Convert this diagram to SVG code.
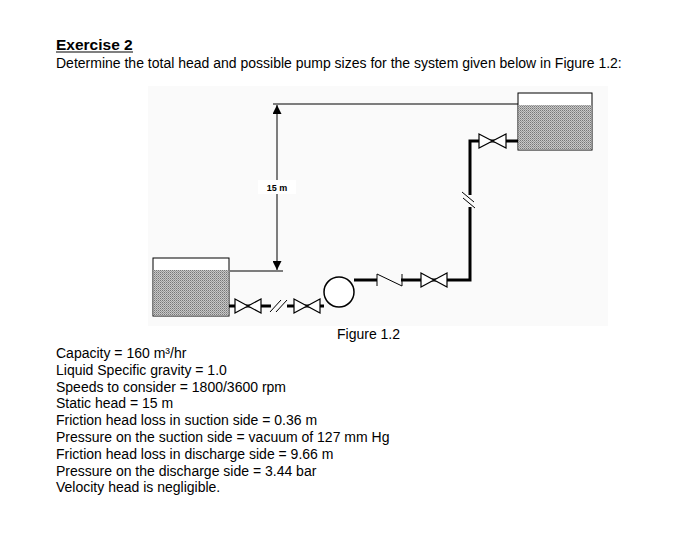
<svg xmlns="http://www.w3.org/2000/svg" width="698" height="540" viewBox="0 0 698 540">
<defs>
<pattern id="dots" width="2" height="2" patternUnits="userSpaceOnUse"><rect width="2" height="2" fill="#c8c8c8"/><rect width="1" height="1" fill="#777"/><rect x="1" y="1" width="1" height="1" fill="#999"/></pattern>
<marker id="ah" viewBox="0 0 10 10" refX="10" refY="5" markerWidth="9" markerHeight="9" orient="auto-start-reverse" markerUnits="userSpaceOnUse"><path d="M0,0 L10,5 L0,10 z" fill="#000"/></marker>
</defs>
<style>
text{font-family:"Liberation Sans",Arial,sans-serif;fill:#000}
.t{font-size:14px}
.pipe{stroke:#000;stroke-width:3;fill:none}
.thin{stroke:#000;stroke-width:1;fill:none}
.valve{fill:#fff;stroke:#000;stroke-width:1.2}
</style>
<rect width="698" height="540" fill="#fff"/>
<rect x="148" y="86" width="460" height="240" fill="#fafafa"/>
<text x="56" y="50" style="font-size:15.5px;font-weight:bold">Exercise 2</text>
<line x1="56" y1="52" x2="133" y2="52" stroke="#000" stroke-width="1.2"/>
<text x="56" y="68" class="t">Determine the total head and possible pump sizes for the system given below in Figure 1.2:</text>
<g id="connectors">
<line x1="273" y1="104" x2="518" y2="104" class="thin"/>
<line x1="230" y1="271" x2="283" y2="271" class="thin"/>
<line x1="277" y1="105" x2="277" y2="270" class="thin" marker-start="url(#ah)" marker-end="url(#ah)"/>
<path d="M229,306 H324" class="pipe"/>
<path d="M354,280 H470 V141 H518" class="pipe"/>
</g>
<g id="label-15m"><rect x="258" y="180" width="38" height="14" fill="#fff"/><text x="277" y="191" text-anchor="middle" style="font-size:9px;font-weight:bold">15 m</text></g>
<g id="tank-lower"><rect x="153" y="258" width="76" height="58" fill="#fff" stroke="#000"/><rect x="153.5" y="270" width="75" height="45.5" fill="url(#dots)"/></g>
<g id="tank-upper"><rect x="518" y="93" width="74" height="57" fill="#fff" stroke="#000"/><rect x="518.5" y="105" width="73" height="44.5" fill="url(#dots)"/></g>
<g id="valve1"><path d="M235,299 L261,313 V299 L235,313 Z" class="valve"/></g>
<g id="break1"><rect x="271" y="302" width="16" height="8" fill="#fafafa"/><line x1="270" y1="312" x2="281" y2="300" class="thin" stroke-width="1.3"/><line x1="276" y1="312" x2="287" y2="300" class="thin" stroke-width="1.3"/></g>
<g id="valve2"><path d="M294,299 L320,313 V299 L294,313 Z" class="valve"/></g>
<g id="pump"><circle cx="339" cy="292" r="15" fill="#fff" stroke="#000" stroke-width="1.5"/></g>
<g id="check-valve"><rect x="377" y="277" width="24" height="6" fill="#fafafa"/><path d="M377,274 V286 M377,274 L402,286 M402,274 V286" class="thin" stroke-width="1.3"/></g>
<g id="valve3"><path d="M421,273 L447,287 V273 L421,287 Z" class="valve"/></g>
<g id="break2"><rect x="466" y="195" width="8" height="12" fill="#fafafa"/><line x1="462" y1="192" x2="474" y2="202" class="thin" stroke-width="1.3"/><line x1="463" y1="198" x2="475" y2="208" class="thin" stroke-width="1.3"/></g>
<g id="valve4"><path d="M479,134 L506,148 V134 L479,148 Z" class="valve"/></g>
<text x="337" y="339" class="t">Figure 1.2</text>
<g class="t">
<text x="56" y="358" class="t">Capacity = 160 m³/hr</text>
<text x="56" y="374.8" class="t">Liquid Specific gravity = 1.0</text>
<text x="56" y="391.6" class="t">Speeds to consider = 1800/3600 rpm</text>
<text x="56" y="408.4" class="t">Static head = 15 m</text>
<text x="56" y="425.2" class="t">Friction head loss in suction side = 0.36 m</text>
<text x="56" y="442" class="t">Pressure on the suction side = vacuum of 127 mm Hg</text>
<text x="56" y="458.8" class="t">Friction head loss in discharge side = 9.66 m</text>
<text x="56" y="475.6" class="t">Pressure on the discharge side = 3.44 bar</text>
<text x="56" y="492.4" class="t">Velocity head is negligible.</text>
</g>
</svg>
